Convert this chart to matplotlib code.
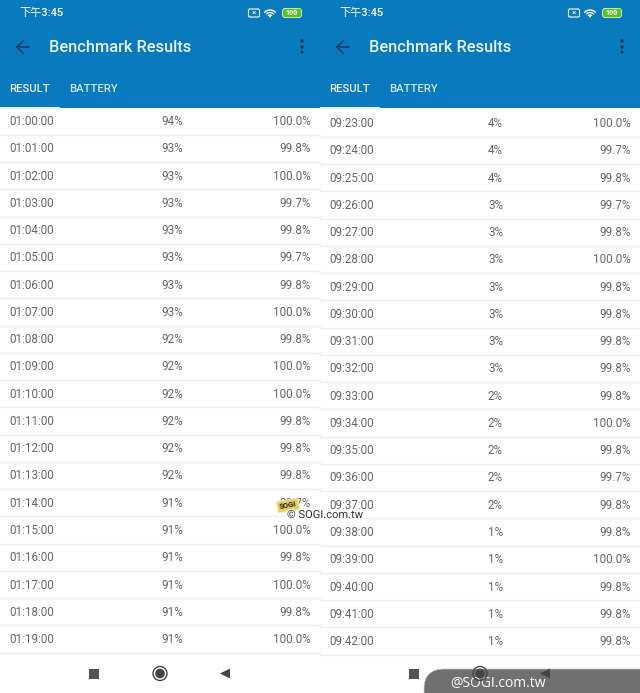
import matplotlib
matplotlib.use('Agg')
import matplotlib.pyplot as plt
import matplotlib.patheffects as pe
from matplotlib.patches import Rectangle, Circle, Polygon, FancyBboxPatch, Arc

plt.rcParams['font.family'] = ['Roboto', 'Noto Sans CJK TC', 'DejaVu Sans']

# datos de las dos pantallas
titulo = 'Benchmark Results'
hora_estado = '下午3:45'
pestanas = ['RESULT', 'BATTERY']

tiempos_izq = ['01:00:00', '01:01:00', '01:02:00', '01:03:00', '01:04:00',
               '01:05:00', '01:06:00', '01:07:00', '01:08:00', '01:09:00',
               '01:10:00', '01:11:00', '01:12:00', '01:13:00', '01:14:00',
               '01:15:00', '01:16:00', '01:17:00', '01:18:00', '01:19:00']
bateria_izq = [94, 93, 93, 93, 93, 93, 93, 93, 92, 92,
               92, 92, 92, 92, 91, 91, 91, 91, 91, 91]
estab_izq = [100.0, 99.8, 100.0, 99.7, 99.8, 99.7, 99.8, 100.0, 99.8, 100.0,
             100.0, 99.8, 99.8, 99.8, 99.7, 100.0, 99.8, 100.0, 99.8, 100.0]

tiempos_der = ['09:23:00', '09:24:00', '09:25:00', '09:26:00', '09:27:00',
               '09:28:00', '09:29:00', '09:30:00', '09:31:00', '09:32:00',
               '09:33:00', '09:34:00', '09:35:00', '09:36:00', '09:37:00',
               '09:38:00', '09:39:00', '09:40:00', '09:41:00', '09:42:00']
bateria_der = [4, 4, 4, 3, 3, 3, 3, 3, 3, 3,
               2, 2, 2, 2, 2, 1, 1, 1, 1, 1]
estab_der = [100.0, 99.7, 99.8, 99.7, 99.8, 100.0, 99.8, 99.8, 99.8, 99.8,
             99.8, 100.0, 99.8, 99.7, 99.8, 99.8, 100.0, 99.8, 99.8, 99.8]

azul = '#0a7abf'
gris_texto = '#666666'
gris_linea = '#efefef'
paso = 27.26

fig = plt.figure(figsize=(6.4, 6.93), dpi=100)
ax = fig.add_axes([0, 0, 1, 1])
ax.set_xlim(0, 640)
ax.set_ylim(693, 0)
ax.axis('off')


def pantalla(x0, y0, tiempos, bateria, estab):
    # cabecera
    ax.add_patch(Rectangle((x0, 0), 320, 108, color=azul, lw=0))
    ax.add_patch(Rectangle((x0, 106.5), 60, 2, color='#e6eef3', lw=0))
    ax.text(x0 + 19, 13, hora_estado, color='white', fontsize=8,
            va='center', fontweight='medium')
    ax.text(x0 + 49, 47.5, titulo, color='#e8f3fa', fontsize=11.8,
            va='center', fontweight='medium')
    ax.text(x0 + 9.2, 89.5, pestanas[0], color='#e8f3fa', fontsize=8.1,
            va='center', fontweight='medium')
    ax.text(x0 + 69.2, 89.5, pestanas[1], color='#cfe4f2', fontsize=8.1,
            va='center', fontweight='medium')

    # flecha atrás
    ax.plot([x0 + 17, x0 + 29], [47, 47], color='#14406b', lw=1.2)
    ax.plot([x0 + 23, x0 + 17, x0 + 23], [41, 47, 53], color='#14406b', lw=1.2)
    # tres puntos
    for yy in [41, 47, 52]:
        ax.add_patch(Circle((x0 + 302, yy), 1.6, color='#14304f', lw=0))

    # iconos de estado
    ax.add_patch(FancyBboxPatch((x0 + 250, 10.5), 8, 5, boxstyle='round,pad=1.5',
                                fc='none', ec='white', lw=0.8))
    ax.text(x0 + 254, 13, '×', color='white', fontsize=6, ha='center', va='center')
    for d in [15, 10, 5]:
        ax.add_patch(Arc((x0 + 270, 17.5), d, d, theta1=220, theta2=320,
                         color='white', lw=1.0))
    ax.add_patch(Circle((x0 + 270, 16.5), 1.0, color='white', lw=0))
    ax.add_patch(FancyBboxPatch((x0 + 285, 11), 14, 4, boxstyle='round,pad=2.5',
                                fc='#58c322', ec='#dff2d0', lw=0.6))
    ax.text(x0 + 292, 13, '100', color='white', fontsize=5, ha='center',
            va='center', fontweight='bold')

    # filas
    for i, (t, b, e) in enumerate(zip(tiempos, bateria, estab)):
        y = y0 + i * paso
        ax.text(x0 + 9.2, y + 0.6, t, color=gris_texto, fontsize=8.4, va='center')
        ax.text(x0 + 183, y + 0.6, f'{b}%', color=gris_texto, fontsize=8.4,
                va='center', ha='right')
        ax.text(x0 + 311, y + 0.6, f'{e:.1f}%', color=gris_texto, fontsize=8.4,
                va='center', ha='right')
        ax.plot([x0, x0 + 320], [y + 13.8, y + 13.8], color=gris_linea, lw=1.0)

    # barra de navegación
    ax.add_patch(Rectangle((x0 + 89, 669), 10, 10, color='#555555', lw=0, zorder=8))
    ax.add_patch(Circle((x0 + 160, 673.5), 7, fc='none', ec='#444444', lw=1.0, zorder=8))
    ax.add_patch(Circle((x0 + 160, 673.5), 4.8, color='#444444', lw=0, zorder=8))
    ax.add_patch(Polygon([[x0 + 230, 668.5], [x0 + 230, 678.5], [x0 + 220, 673.5]],
                         closed=True, color='#444444', lw=0, zorder=8))


pantalla(0, 121, tiempos_izq, bateria_izq, estab_izq)
pantalla(320, 123, tiempos_der, bateria_der, estab_der)

# marca de agua central
ax.text(288, 505.5, 'SOGI', fontsize=5.5, fontweight='bold', color='#222222',
        rotation=10, ha='center', va='center', zorder=9,
        bbox=dict(boxstyle='square,pad=0.3', fc='#e8d060', ec='#f5f0c0', lw=0.6))
ax.text(287, 515, '© SOGI.com.tw', fontsize=8, color='#333333', va='center', zorder=9,
        path_effects=[pe.withStroke(linewidth=1.6, foreground='white')])

# pestaña gris de marca de agua abajo a la derecha
ax.add_patch(FancyBboxPatch((444, 689), 216, 30, boxstyle='round,pad=20,rounding_size=20',
                            fc='#707070', ec='#c8c8c8', lw=0.5, zorder=5))
ax.text(450, 683, '@SOGI.com.tw', color='white', fontsize=10, va='center',
        zorder=7, family='Open Sans')

fig.savefig('out.png', dpi=100)
